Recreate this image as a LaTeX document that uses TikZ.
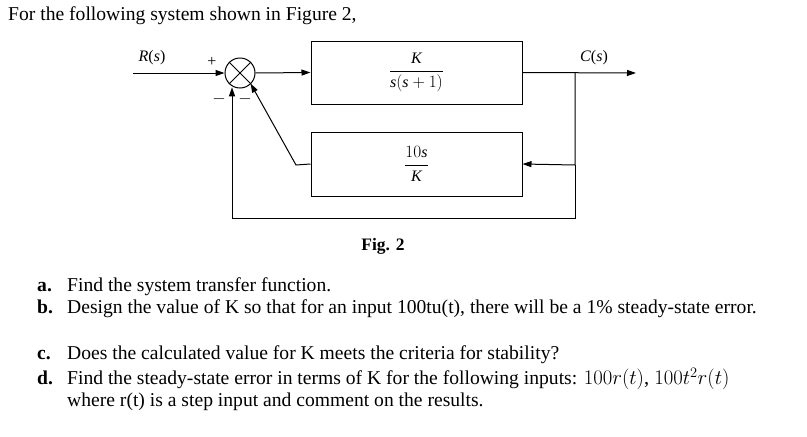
\documentclass[tikz,border=0pt]{standalone}
\usepackage{fontspec}
\setmainfont{Liberation Serif}
\usetikzlibrary{arrows.meta}
\begin{document}
\begin{tikzpicture}[x=1pt,y=-1pt,
  blk/.style={draw,line width=1pt},
  ln/.style={line width=1pt},
  arr/.style={ln,-{Triangle[length=9pt,width=6pt]}},
  txt/.style={anchor=west,inner sep=0pt,font=\fontsize{19.6}{23}\selectfont},
  lab/.style={inner sep=0pt,font=\fontsize{16}{18}\selectfont}]
\useasboundingbox (0,0) rectangle (807,437);
\node[txt] (hdr) at (8,16) {For the following system shown in Figure 2,};
% blocks
\node[blk,minimum width=211pt,minimum height=63pt] (G) at (416.5,72.5) {};
\node[lab] at (G) {$\displaystyle\frac{\textit{K}}{\textit{s}(\textit{s}+1)}$};
\node[blk,minimum width=211pt,minimum height=64pt] (H) at (416.5,164) {};
\node[lab] at (H) {$\displaystyle\frac{10\textit{s}}{\textit{K}}$};
\node[draw,circle,minimum size=30pt,inner sep=0pt,line width=1pt] (S) at (240,73) {};
\draw[ln] (S.north west) -- (S.south east) (S.north east) -- (S.south west);
\coordinate (R) at (133,73);
\coordinate (Cout) at (636,73);
\coordinate (T) at (575,73);
\coordinate (TB) at (575,165);
\coordinate (TL) at (575,218);
\coordinate (BL) at (232,218);
\coordinate (HL) at (296,165);
\node[lab] (Rs) at (152,58) {\textit{R}(\textit{s})};
\node[lab] (Cs) at (594,58) {\textit{C}(\textit{s})};
\node[lab] (plus) at (212,62) {+};
\node[lab] (m1) at (219,99) {$-$};
\node[lab] (m2) at (245,99) {$-$};
\draw[arr] (R) -- (S.west);
\draw[arr] (S.east) -- (G.west);
\draw[arr] (G.east) -- (Cout);
\draw[arr] (T) -- (TB) -- (H.east);
\draw[ln] (TB) -- (TL) -- (BL);
\draw[arr] (BL) -- (232,87.3);
\draw[arr] (H.west) -- (HL) -- (250.6,83.6);
\node[inner sep=0pt,font=\bfseries\fontsize{17.5}{20}\selectfont] (fig) at (383,246) {Fig. 2};
\newcommand\itm[1]{\makebox[30pt][l]{\textbf{#1}}}
\node[txt] (a) at (37,287) {\itm{a.}Find the system transfer function.};
\node[txt] (b) at (37,309) {\itm{b.}Design the value of K so that for an input 100tu(t), there will be a 1\% steady-state error.};
\node[txt] (c) at (37,355) {\itm{c.}Does the calculated value for K meets the criteria for stability?};
\node[txt] (d) at (37,379) {\itm{d.}Find the steady-state error in terms of K for the following inputs: {\fontsize{20.5}{23}\selectfont$100r(t)$, $100t^2r(t)$}};
\node[txt] (d2) at (67,402) {where r(t) is a step input and comment on the results.};
\end{tikzpicture}
\end{document}
